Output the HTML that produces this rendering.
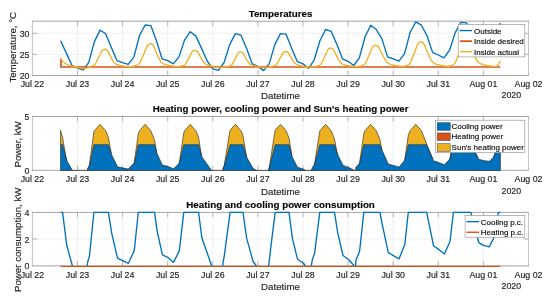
<!DOCTYPE html>
<html><head><meta charset="utf-8"><title>Simulation plots</title>
<style>html,body{margin:0;padding:0;background:#fff;overflow:hidden}body{width:550px;height:301px;position:relative}</style>
</head><body>
<svg width="550" height="301" viewBox="0 0 550 301" style="position:absolute;left:0;top:0;font-family:'Liberation Sans',sans-serif">
<style>text{stroke:#262626;stroke-width:0.18px;stroke-opacity:0.9}</style>
<rect width="550" height="301" fill="#fff"/>
<line x1="77.50" y1="21.20" x2="77.50" y2="75.50" stroke="#e6e6e6" stroke-width="0.6"/>
<line x1="122.60" y1="21.20" x2="122.60" y2="75.50" stroke="#e6e6e6" stroke-width="0.6"/>
<line x1="167.70" y1="21.20" x2="167.70" y2="75.50" stroke="#e6e6e6" stroke-width="0.6"/>
<line x1="212.80" y1="21.20" x2="212.80" y2="75.50" stroke="#e6e6e6" stroke-width="0.6"/>
<line x1="257.90" y1="21.20" x2="257.90" y2="75.50" stroke="#e6e6e6" stroke-width="0.6"/>
<line x1="303.00" y1="21.20" x2="303.00" y2="75.50" stroke="#e6e6e6" stroke-width="0.6"/>
<line x1="348.10" y1="21.20" x2="348.10" y2="75.50" stroke="#e6e6e6" stroke-width="0.6"/>
<line x1="393.20" y1="21.20" x2="393.20" y2="75.50" stroke="#e6e6e6" stroke-width="0.6"/>
<line x1="438.30" y1="21.20" x2="438.30" y2="75.50" stroke="#e6e6e6" stroke-width="0.6"/>
<line x1="483.40" y1="21.20" x2="483.40" y2="75.50" stroke="#e6e6e6" stroke-width="0.6"/>
<line x1="32.40" y1="54.40" x2="528.50" y2="54.40" stroke="#e6e6e6" stroke-width="0.6"/>
<line x1="32.40" y1="33.30" x2="528.50" y2="33.30" stroke="#e6e6e6" stroke-width="0.6"/>
<line x1="32.40" y1="21.20" x2="32.40" y2="75.50" stroke="#a9a9a9" stroke-width="0.7"/>
<line x1="528.50" y1="21.20" x2="528.50" y2="75.50" stroke="#a9a9a9" stroke-width="0.7"/>
<line x1="32.05" y1="21.20" x2="528.85" y2="21.20" stroke="#858585" stroke-width="0.75"/>
<line x1="32.05" y1="75.50" x2="528.85" y2="75.50" stroke="#858585" stroke-width="0.75"/>
<line x1="77.50" y1="75.50" x2="77.50" y2="70.70" stroke="#8c8c8c" stroke-width="0.6"/>
<line x1="77.50" y1="21.20" x2="77.50" y2="26.00" stroke="#8c8c8c" stroke-width="0.6"/>
<line x1="122.60" y1="75.50" x2="122.60" y2="70.70" stroke="#8c8c8c" stroke-width="0.6"/>
<line x1="122.60" y1="21.20" x2="122.60" y2="26.00" stroke="#8c8c8c" stroke-width="0.6"/>
<line x1="167.70" y1="75.50" x2="167.70" y2="70.70" stroke="#8c8c8c" stroke-width="0.6"/>
<line x1="167.70" y1="21.20" x2="167.70" y2="26.00" stroke="#8c8c8c" stroke-width="0.6"/>
<line x1="212.80" y1="75.50" x2="212.80" y2="70.70" stroke="#8c8c8c" stroke-width="0.6"/>
<line x1="212.80" y1="21.20" x2="212.80" y2="26.00" stroke="#8c8c8c" stroke-width="0.6"/>
<line x1="257.90" y1="75.50" x2="257.90" y2="70.70" stroke="#8c8c8c" stroke-width="0.6"/>
<line x1="257.90" y1="21.20" x2="257.90" y2="26.00" stroke="#8c8c8c" stroke-width="0.6"/>
<line x1="303.00" y1="75.50" x2="303.00" y2="70.70" stroke="#8c8c8c" stroke-width="0.6"/>
<line x1="303.00" y1="21.20" x2="303.00" y2="26.00" stroke="#8c8c8c" stroke-width="0.6"/>
<line x1="348.10" y1="75.50" x2="348.10" y2="70.70" stroke="#8c8c8c" stroke-width="0.6"/>
<line x1="348.10" y1="21.20" x2="348.10" y2="26.00" stroke="#8c8c8c" stroke-width="0.6"/>
<line x1="393.20" y1="75.50" x2="393.20" y2="70.70" stroke="#8c8c8c" stroke-width="0.6"/>
<line x1="393.20" y1="21.20" x2="393.20" y2="26.00" stroke="#8c8c8c" stroke-width="0.6"/>
<line x1="438.30" y1="75.50" x2="438.30" y2="70.70" stroke="#8c8c8c" stroke-width="0.6"/>
<line x1="438.30" y1="21.20" x2="438.30" y2="26.00" stroke="#8c8c8c" stroke-width="0.6"/>
<line x1="483.40" y1="75.50" x2="483.40" y2="70.70" stroke="#8c8c8c" stroke-width="0.6"/>
<line x1="483.40" y1="21.20" x2="483.40" y2="26.00" stroke="#8c8c8c" stroke-width="0.6"/>
<line x1="32.40" y1="54.40" x2="37.20" y2="54.40" stroke="#8c8c8c" stroke-width="0.6"/>
<line x1="528.50" y1="54.40" x2="523.70" y2="54.40" stroke="#8c8c8c" stroke-width="0.6"/>
<line x1="32.40" y1="33.30" x2="37.20" y2="33.30" stroke="#8c8c8c" stroke-width="0.6"/>
<line x1="528.50" y1="33.30" x2="523.70" y2="33.30" stroke="#8c8c8c" stroke-width="0.6"/>
<polyline fill="none" stroke="#0072BD" stroke-width="1.35" stroke-linejoin="round" points="60.59,40.70 66.22,52.90 71.86,65.30 77.50,68.00 83.14,70.10 88.78,62.40 94.41,41.60 100.05,30.10 105.69,33.70 111.33,47.40 116.96,60.60 122.60,62.60 128.24,64.40 133.88,57.10 139.51,35.50 145.15,25.00 150.79,25.60 156.43,40.80 162.06,58.80 167.70,60.70 173.34,63.90 178.97,56.90 184.61,39.90 190.25,31.70 195.89,36.10 201.53,48.40 207.16,61.00 212.80,68.80 218.44,70.40 224.08,62.50 229.71,44.60 235.35,33.60 240.99,35.20 246.62,48.40 252.26,63.90 257.90,66.40 263.54,70.60 269.18,63.90 274.81,44.60 280.45,33.60 286.09,34.20 291.73,48.40 297.36,61.70 303.00,63.90 308.64,68.30 314.27,59.80 319.91,40.80 325.55,29.50 331.19,31.40 336.82,44.20 342.46,58.80 348.10,61.30 353.74,65.50 359.38,57.90 365.01,37.00 370.65,25.30 376.29,29.50 381.93,38.90 387.56,56.90 393.20,58.80 398.84,61.10 404.47,53.80 410.11,32.50 415.75,21.90 421.39,25.20 427.02,35.70 432.66,52.60 438.30,55.00 443.94,57.90 449.57,50.20 455.21,32.60 460.85,22.30 466.49,22.80 472.12,33.00 477.76,50.00 483.40,52.00 489.04,54.00 494.68,45.00 500.31,22.80"/>
<polyline fill="none" stroke="#D95319" stroke-width="1.7" stroke-linejoin="miter" points="60.99,58.40 60.99,67.00 500.31,67.00"/>
<polyline fill="none" stroke="#EDB120" stroke-width="1.35" stroke-linejoin="round" points="60.59,58.40 61.09,59.16 61.59,59.85 62.09,60.48 62.59,61.06 63.09,61.58 63.59,62.05 64.09,62.48 64.59,62.88 65.09,63.24 65.59,63.56 66.09,63.86 66.59,64.13 67.09,64.37 67.59,64.60 68.09,64.80 68.59,64.99 69.09,65.16 69.59,65.32 70.09,65.46 70.59,65.60 71.09,65.72 71.59,65.84 72.09,65.96 72.59,66.07 73.09,66.18 73.59,66.29 74.09,66.41 74.59,66.53 75.09,66.65 75.59,66.79 76.09,66.93 76.59,67.08 77.09,67.23 77.59,67.39 78.09,67.56 78.59,67.73 79.09,67.90 79.59,68.06 80.09,68.22 80.59,68.36 81.09,68.48 81.59,68.58 82.09,68.66 82.59,68.71 83.09,68.73 83.59,68.72 84.09,68.69 84.59,68.62 85.09,68.54 85.59,68.43 86.09,68.29 86.59,68.13 87.09,67.94 87.59,67.75 88.09,67.54 88.59,67.33 89.09,67.13 89.59,66.93 90.09,66.74 90.59,66.55 91.09,66.37 91.59,66.17 92.09,65.97 92.59,65.75 93.09,65.52 93.59,65.27 94.09,64.99 94.59,64.68 95.09,64.24 95.59,63.49 96.09,62.53 96.59,61.47 97.09,60.42 97.59,59.47 98.09,58.52 98.59,57.54 99.09,56.55 99.59,55.56 100.09,54.55 100.59,53.43 101.09,52.33 101.59,51.38 102.09,50.70 102.59,50.16 103.09,49.76 103.59,49.51 104.09,49.32 104.59,49.21 105.09,49.22 105.59,49.35 106.09,49.55 106.59,49.82 107.09,50.32 107.59,50.96 108.09,51.70 108.59,52.64 109.09,53.69 109.59,54.73 110.09,55.69 110.59,56.67 111.09,57.64 111.59,58.58 112.09,59.46 112.59,60.25 113.09,61.03 113.59,61.78 114.09,62.46 114.59,63.02 115.09,63.42 115.59,63.75 116.09,64.04 116.59,64.29 117.09,64.51 117.59,64.71 118.09,64.88 118.59,65.04 119.09,65.18 119.59,65.31 120.09,65.43 120.59,65.54 121.09,65.65 121.59,65.74 122.09,65.83 122.59,65.91 123.09,65.98 123.59,66.05 124.09,66.11 124.59,66.17 125.09,66.22 125.59,66.27 126.09,66.32 126.59,66.37 127.09,66.41 127.59,66.45 128.09,66.49 128.59,66.53 129.09,66.56 129.59,66.60 130.09,66.63 130.59,66.67 131.09,66.59 131.59,66.51 132.09,66.42 132.59,66.33 133.09,66.23 133.59,66.13 134.09,66.02 134.59,65.90 135.09,65.76 135.59,65.61 136.09,65.44 136.59,65.24 137.09,65.02 137.59,64.77 138.09,64.49 138.59,64.18 139.09,63.83 139.59,63.27 140.09,62.40 140.59,61.32 141.09,60.13 141.59,58.92 142.09,57.80 142.59,56.73 143.09,55.63 143.59,54.52 144.09,53.40 144.59,52.27 145.09,51.14 145.59,49.91 146.09,48.62 146.59,47.41 147.09,46.39 147.59,45.65 148.09,45.03 148.59,44.54 149.09,44.22 149.59,43.98 150.09,43.80 150.59,43.70 151.09,43.75 151.59,43.92 152.09,44.18 152.59,44.54 153.09,45.17 153.59,45.96 154.09,46.87 154.59,48.03 155.09,49.33 155.59,50.65 156.09,51.86 156.59,53.08 157.09,54.31 157.59,55.51 158.09,56.65 158.59,57.69 159.09,58.66 159.59,59.63 160.09,60.55 160.59,61.35 161.09,62.00 161.59,62.46 162.09,62.86 162.59,63.22 163.09,63.53 163.59,63.80 164.09,64.05 164.59,64.27 165.09,64.46 165.59,64.64 166.09,64.80 166.59,64.96 167.09,65.10 167.59,65.23 168.09,65.36 168.59,65.47 169.09,65.57 169.59,65.67 170.09,65.75 170.59,65.83 171.09,65.91 171.59,65.98 172.09,66.05 172.59,66.11 173.09,66.17 173.59,66.22 174.09,66.28 174.59,66.33 175.09,66.38 175.59,66.43 176.09,66.47 176.59,66.52 177.09,66.56 177.59,66.60 178.09,66.64 178.59,66.57 179.09,66.49 179.59,66.41 180.09,66.33 180.59,66.24 181.09,66.14 181.59,66.02 182.09,65.89 182.59,65.73 183.09,65.55 183.59,65.35 184.09,65.11 184.59,64.84 185.09,64.50 185.59,63.86 186.09,63.00 186.59,62.02 187.09,61.03 187.59,60.13 188.09,59.24 188.59,58.34 189.09,57.41 189.59,56.49 190.09,55.55 190.59,54.52 191.09,53.48 191.59,52.55 192.09,51.87 192.59,51.34 193.09,50.94 193.59,50.69 194.09,50.50 194.59,50.37 195.09,50.36 195.59,50.46 196.09,50.63 196.59,50.87 197.09,51.29 197.59,51.87 198.09,52.53 198.59,53.38 199.09,54.35 199.59,55.33 200.09,56.24 200.59,57.15 201.09,58.06 201.59,58.95 202.09,59.78 202.59,60.54 203.09,61.27 203.59,61.98 204.09,62.63 204.59,63.18 205.09,63.59 205.59,63.90 206.09,64.18 206.59,64.43 207.09,64.65 207.59,64.85 208.09,65.03 208.59,65.19 209.09,65.35 209.59,65.50 210.09,65.64 210.59,65.78 211.09,65.92 211.59,66.06 212.09,66.20 212.59,66.33 213.09,66.47 213.59,66.60 214.09,66.73 214.59,66.85 215.09,66.98 215.59,67.09 216.09,67.20 216.59,67.29 217.09,67.38 217.59,67.44 218.09,67.50 218.59,67.54 219.09,67.57 219.59,67.58 220.09,67.57 220.59,67.56 221.09,67.53 221.59,67.50 222.09,67.46 222.59,67.41 223.09,67.36 223.59,67.32 224.09,67.25 224.59,67.15 225.09,67.05 225.59,66.93 226.09,66.81 226.59,66.70 227.09,66.58 227.59,66.46 228.09,66.35 228.59,66.22 229.09,66.07 229.59,65.90 230.09,65.71 230.59,65.49 231.09,65.24 231.59,64.95 232.09,64.49 232.59,63.69 233.09,62.70 233.59,61.67 234.09,60.72 234.59,59.80 235.09,58.85 235.59,57.89 236.09,56.92 236.59,55.90 237.09,54.80 237.59,53.82 238.09,53.12 238.59,52.60 239.09,52.23 239.59,52.01 240.09,51.85 240.59,51.80 241.09,51.89 241.59,52.06 242.09,52.31 242.59,52.77 243.09,53.37 243.59,54.10 244.09,55.03 244.59,56.02 245.09,56.95 245.59,57.86 246.09,58.78 246.59,59.67 247.09,60.50 247.59,61.25 248.09,61.98 248.59,62.68 249.09,63.29 249.59,63.76 250.09,64.09 250.59,64.38 251.09,64.63 251.59,64.85 252.09,65.05 252.59,65.22 253.09,65.37 253.59,65.52 254.09,65.66 254.59,65.80 255.09,65.93 255.59,66.06 256.09,66.18 256.59,66.30 257.09,66.43 257.59,66.55 258.09,66.67 258.59,66.79 259.09,66.91 259.59,67.03 260.09,67.14 260.59,67.25 261.09,67.35 261.59,67.44 262.09,67.52 262.59,67.59 263.09,67.64 263.59,67.67 264.09,67.70 264.59,67.70 265.09,67.69 265.59,67.67 266.09,67.64 266.59,67.60 267.09,67.55 267.59,67.47 268.09,67.37 268.59,67.27 269.09,67.15 269.59,67.02 270.09,66.90 270.59,66.77 271.09,66.65 271.59,66.53 272.09,66.41 272.59,66.28 273.09,66.14 273.59,65.98 274.09,65.81 274.59,65.62 275.09,65.40 275.59,65.15 276.09,64.87 276.59,64.39 277.09,63.64 277.59,62.72 278.09,61.75 278.59,60.84 279.09,59.98 279.59,59.09 280.09,58.20 280.59,57.29 281.09,56.38 281.59,55.38 282.09,54.36 282.59,53.47 283.09,52.84 283.59,52.34 284.09,51.97 284.59,51.76 285.09,51.59 285.59,51.50 286.09,51.54 286.59,51.66 287.09,51.85 287.59,52.14 288.09,52.62 288.59,53.20 289.09,53.91 289.59,54.78 290.09,55.72 290.59,56.60 291.09,57.46 291.59,58.32 292.09,59.17 292.59,59.98 293.09,60.73 293.59,61.41 294.09,62.10 294.59,62.74 295.09,63.29 295.59,63.72 296.09,64.03 296.59,64.31 297.09,64.55 297.59,64.76 298.09,64.95 298.59,65.12 299.09,65.27 299.59,65.42 300.09,65.55 300.59,65.68 301.09,65.81 301.59,65.93 302.09,66.05 302.59,66.16 303.09,66.27 303.59,66.38 304.09,66.48 304.59,66.58 305.09,66.67 305.59,66.76 306.09,66.84 306.59,66.92 307.09,66.99 307.59,67.04 308.09,67.09 308.59,67.13 309.09,67.16 309.59,67.18 310.09,67.19 310.59,67.20 311.09,67.20 311.59,67.19 312.09,67.17 312.59,67.16 313.09,67.07 313.59,66.96 314.09,66.84 314.59,66.72 315.09,66.60 315.59,66.47 316.09,66.35 316.59,66.22 317.09,66.07 317.59,65.92 318.09,65.74 318.59,65.54 319.09,65.31 319.59,65.06 320.09,64.77 320.59,64.45 321.09,63.93 321.59,63.09 322.09,62.04 322.59,60.91 323.09,59.82 323.59,58.82 324.09,57.80 324.59,56.76 325.09,55.71 325.59,54.65 326.09,53.56 326.59,52.36 327.09,51.21 327.59,50.25 328.09,49.58 328.59,49.02 329.09,48.63 329.59,48.39 330.09,48.20 330.59,48.10 331.09,48.14 331.59,48.28 332.09,48.50 332.59,48.80 333.09,49.33 333.59,49.99 334.09,50.75 334.59,51.72 335.09,52.80 335.59,53.88 336.09,54.87 336.59,55.88 337.09,56.88 337.59,57.86 338.09,58.78 338.59,59.61 339.09,60.42 339.59,61.21 340.09,61.94 340.59,62.57 341.09,63.05 341.59,63.41 342.09,63.72 342.59,64.00 343.09,64.25 343.59,64.46 344.09,64.65 344.59,64.82 345.09,64.98 345.59,65.12 346.09,65.25 346.59,65.37 347.09,65.49 347.59,65.59 348.09,65.69 348.59,65.78 349.09,65.86 349.59,65.93 350.09,66.00 350.59,66.06 351.09,66.12 351.59,66.18 352.09,66.23 352.59,66.28 353.09,66.33 353.59,66.37 354.09,66.42 354.59,66.46 355.09,66.50 355.59,66.53 356.09,66.57 356.59,66.61 357.09,66.64 357.59,66.59 358.09,66.50 358.59,66.41 359.09,66.31 359.59,66.21 360.09,66.11 360.59,65.99 361.09,65.85 361.59,65.70 362.09,65.52 362.59,65.32 363.09,65.09 363.59,64.83 364.09,64.54 364.59,64.21 365.09,63.77 365.59,62.99 366.09,61.95 366.59,60.76 367.09,59.54 367.59,58.40 368.09,57.31 368.59,56.21 369.09,55.08 369.59,53.94 370.09,52.80 370.59,51.61 371.09,50.32 371.59,49.06 372.09,47.97 372.59,47.18 373.09,46.55 373.59,46.06 374.09,45.75 374.59,45.51 375.09,45.35 375.59,45.30 376.09,45.38 376.59,45.54 377.09,45.76 377.59,46.06 378.09,46.57 378.59,47.21 379.09,47.92 379.59,48.81 380.09,49.85 380.59,50.95 381.09,52.03 381.59,53.03 382.09,54.05 382.59,55.07 383.09,56.08 383.59,57.04 384.09,57.94 384.59,58.76 385.09,59.58 385.59,60.38 386.09,61.12 386.59,61.78 387.09,62.31 387.59,62.71 388.09,63.05 388.59,63.36 389.09,63.63 389.59,63.87 390.09,64.09 390.59,64.29 391.09,64.47 391.59,64.63 392.09,64.78 392.59,64.92 393.09,65.05 393.59,65.17 394.09,65.28 394.59,65.39 395.09,65.49 395.59,65.58 396.09,65.67 396.59,65.74 397.09,65.82 397.59,65.88 398.09,65.95 398.59,66.01 399.09,66.07 399.59,66.12 400.09,66.17 400.59,66.22 401.09,66.27 401.59,66.31 402.09,66.36 402.59,66.40 403.09,66.38 403.59,66.27 404.09,66.16 404.59,66.05 405.09,65.92 405.59,65.79 406.09,65.63 406.59,65.45 407.09,65.24 407.59,65.01 408.09,64.75 408.59,64.45 409.09,64.12 409.59,63.74 410.09,63.23 410.59,62.34 411.09,61.18 411.59,59.86 412.09,58.51 412.59,57.24 413.09,56.04 413.59,54.82 414.09,53.58 414.59,52.32 415.09,51.06 415.59,49.79 416.09,48.39 416.59,46.96 417.09,45.64 417.59,44.60 418.09,43.84 418.59,43.19 419.09,42.72 419.59,42.43 420.09,42.19 420.59,42.03 421.09,42.01 421.59,42.12 422.09,42.33 422.59,42.60 423.09,43.01 423.59,43.65 424.09,44.43 424.59,45.30 425.09,46.40 425.59,47.65 426.09,48.95 426.59,50.17 427.09,51.34 427.59,52.54 428.09,53.73 428.59,54.88 429.09,55.98 429.59,56.99 430.09,57.94 430.59,58.89 431.09,59.80 431.59,60.63 432.09,61.33 432.59,61.87 433.09,62.29 433.59,62.66 434.09,63.00 434.59,63.30 435.09,63.57 435.59,63.81 436.09,64.02 436.59,64.22 437.09,64.40 437.59,64.56 438.09,64.72 438.59,64.87 439.09,65.00 439.59,65.13 440.09,65.25 440.59,65.36 441.09,65.46 441.59,65.55 442.09,65.64 442.59,65.72 443.09,65.80 443.59,65.87 444.09,65.94 444.59,66.00 445.09,66.06 445.59,66.12 446.09,66.17 446.59,66.23 447.09,66.28 447.59,66.32 448.09,66.33 448.59,66.22 449.09,66.10 449.59,65.98 450.09,65.85 450.59,65.71 451.09,65.54 451.59,65.35 452.09,65.14 452.59,64.89 453.09,64.62 453.59,64.31 454.09,63.96 454.59,63.57 455.09,63.01 455.59,62.06 456.09,60.86 456.59,59.50 457.09,58.11 457.59,56.81 458.09,55.59 458.59,54.33 459.09,53.06 459.59,51.77 460.09,50.47 460.59,49.17 461.09,47.75 461.59,46.27 462.09,44.91 462.59,43.81 463.09,43.00 463.59,42.32 464.09,41.81 464.59,41.49 465.09,41.23 465.59,41.05 466.09,41.00 466.59,41.09 467.09,41.29 467.59,41.55 468.09,41.91 468.59,42.52 469.09,43.29 469.59,44.14 470.09,45.21 470.59,46.45 471.09,47.78 471.59,49.07 472.09,50.28 472.59,51.50 473.09,52.72 473.59,53.93 474.09,55.08 474.59,56.16 475.09,57.15 475.59,58.13 476.09,59.08 476.59,59.98 477.09,60.77 477.59,61.41 478.09,61.88 478.59,62.29 479.09,62.66 479.59,62.99 480.09,63.28 480.59,63.54 481.09,63.78 481.59,63.99 482.09,64.18 482.59,64.36 483.09,64.53 483.59,64.69 484.09,64.83 484.59,64.97 485.09,65.10 485.59,65.22 486.09,65.33 486.59,65.43 487.09,65.52 487.59,65.61 488.09,65.69 488.59,65.77 489.09,65.84 489.59,65.91 490.09,65.98 490.59,66.04 491.09,66.10 491.59,66.15 492.09,66.21 492.59,66.26 493.09,66.31 493.59,66.35 494.09,66.40 494.59,66.45 495.09,66.49 495.59,66.46 496.09,66.33 496.59,66.09 497.09,65.74 497.59,65.29 498.09,64.73 498.59,64.06 499.09,63.28 499.59,62.40 500.09,61.41 500.31,60.92"/>
<text x="32.40" y="86.65" font-size="8.8" text-anchor="middle" fill="#262626">Jul 22</text>
<text x="77.50" y="86.65" font-size="8.8" text-anchor="middle" fill="#262626">Jul 23</text>
<text x="122.60" y="86.65" font-size="8.8" text-anchor="middle" fill="#262626">Jul 24</text>
<text x="167.70" y="86.65" font-size="8.8" text-anchor="middle" fill="#262626">Jul 25</text>
<text x="212.80" y="86.65" font-size="8.8" text-anchor="middle" fill="#262626">Jul 26</text>
<text x="257.90" y="86.65" font-size="8.8" text-anchor="middle" fill="#262626">Jul 27</text>
<text x="303.00" y="86.65" font-size="8.8" text-anchor="middle" fill="#262626">Jul 28</text>
<text x="348.10" y="86.65" font-size="8.8" text-anchor="middle" fill="#262626">Jul 29</text>
<text x="393.20" y="86.65" font-size="8.8" text-anchor="middle" fill="#262626">Jul 30</text>
<text x="438.30" y="86.65" font-size="8.8" text-anchor="middle" fill="#262626">Jul 31</text>
<text x="483.40" y="86.65" font-size="8.8" text-anchor="middle" fill="#262626">Aug 01</text>
<text x="528.50" y="86.65" font-size="8.8" text-anchor="middle" fill="#262626">Aug 02</text>
<text x="29.50" y="79.00" font-size="8.8" text-anchor="end" fill="#262626">20</text>
<text x="29.50" y="57.90" font-size="8.8" text-anchor="end" fill="#262626">25</text>
<text x="29.50" y="36.80" font-size="8.8" text-anchor="end" fill="#262626">30</text>
<text x="280.5" y="99.20" font-size="9.7" text-anchor="middle" fill="#262626">Datetime</text>
<text x="521.1" y="98.20" font-size="8.8" text-anchor="end" fill="#262626">2020</text>
<text x="280.6" y="17.30" font-size="9.75" font-weight="bold" text-anchor="middle" fill="#000">Temperatures</text>
<text transform="translate(16.40,47.30) rotate(-90)" font-size="9.7" text-anchor="middle" fill="#262626">Temperature, °C</text>
<line x1="77.50" y1="116.50" x2="77.50" y2="170.30" stroke="#e6e6e6" stroke-width="0.6"/>
<line x1="122.60" y1="116.50" x2="122.60" y2="170.30" stroke="#e6e6e6" stroke-width="0.6"/>
<line x1="167.70" y1="116.50" x2="167.70" y2="170.30" stroke="#e6e6e6" stroke-width="0.6"/>
<line x1="212.80" y1="116.50" x2="212.80" y2="170.30" stroke="#e6e6e6" stroke-width="0.6"/>
<line x1="257.90" y1="116.50" x2="257.90" y2="170.30" stroke="#e6e6e6" stroke-width="0.6"/>
<line x1="303.00" y1="116.50" x2="303.00" y2="170.30" stroke="#e6e6e6" stroke-width="0.6"/>
<line x1="348.10" y1="116.50" x2="348.10" y2="170.30" stroke="#e6e6e6" stroke-width="0.6"/>
<line x1="393.20" y1="116.50" x2="393.20" y2="170.30" stroke="#e6e6e6" stroke-width="0.6"/>
<line x1="438.30" y1="116.50" x2="438.30" y2="170.30" stroke="#e6e6e6" stroke-width="0.6"/>
<line x1="483.40" y1="116.50" x2="483.40" y2="170.30" stroke="#e6e6e6" stroke-width="0.6"/>
<line x1="32.40" y1="116.50" x2="32.40" y2="170.30" stroke="#a9a9a9" stroke-width="0.7"/>
<line x1="528.50" y1="116.50" x2="528.50" y2="170.30" stroke="#a9a9a9" stroke-width="0.7"/>
<line x1="32.05" y1="116.50" x2="528.85" y2="116.50" stroke="#858585" stroke-width="0.75"/>
<line x1="32.05" y1="170.30" x2="528.85" y2="170.30" stroke="#858585" stroke-width="0.75"/>
<line x1="77.50" y1="170.30" x2="77.50" y2="165.50" stroke="#8c8c8c" stroke-width="0.6"/>
<line x1="77.50" y1="116.50" x2="77.50" y2="121.30" stroke="#8c8c8c" stroke-width="0.6"/>
<line x1="122.60" y1="170.30" x2="122.60" y2="165.50" stroke="#8c8c8c" stroke-width="0.6"/>
<line x1="122.60" y1="116.50" x2="122.60" y2="121.30" stroke="#8c8c8c" stroke-width="0.6"/>
<line x1="167.70" y1="170.30" x2="167.70" y2="165.50" stroke="#8c8c8c" stroke-width="0.6"/>
<line x1="167.70" y1="116.50" x2="167.70" y2="121.30" stroke="#8c8c8c" stroke-width="0.6"/>
<line x1="212.80" y1="170.30" x2="212.80" y2="165.50" stroke="#8c8c8c" stroke-width="0.6"/>
<line x1="212.80" y1="116.50" x2="212.80" y2="121.30" stroke="#8c8c8c" stroke-width="0.6"/>
<line x1="257.90" y1="170.30" x2="257.90" y2="165.50" stroke="#8c8c8c" stroke-width="0.6"/>
<line x1="257.90" y1="116.50" x2="257.90" y2="121.30" stroke="#8c8c8c" stroke-width="0.6"/>
<line x1="303.00" y1="170.30" x2="303.00" y2="165.50" stroke="#8c8c8c" stroke-width="0.6"/>
<line x1="303.00" y1="116.50" x2="303.00" y2="121.30" stroke="#8c8c8c" stroke-width="0.6"/>
<line x1="348.10" y1="170.30" x2="348.10" y2="165.50" stroke="#8c8c8c" stroke-width="0.6"/>
<line x1="348.10" y1="116.50" x2="348.10" y2="121.30" stroke="#8c8c8c" stroke-width="0.6"/>
<line x1="393.20" y1="170.30" x2="393.20" y2="165.50" stroke="#8c8c8c" stroke-width="0.6"/>
<line x1="393.20" y1="116.50" x2="393.20" y2="121.30" stroke="#8c8c8c" stroke-width="0.6"/>
<line x1="438.30" y1="170.30" x2="438.30" y2="165.50" stroke="#8c8c8c" stroke-width="0.6"/>
<line x1="438.30" y1="116.50" x2="438.30" y2="121.30" stroke="#8c8c8c" stroke-width="0.6"/>
<line x1="483.40" y1="170.30" x2="483.40" y2="165.50" stroke="#8c8c8c" stroke-width="0.6"/>
<line x1="483.40" y1="116.50" x2="483.40" y2="121.30" stroke="#8c8c8c" stroke-width="0.6"/>
<polygon fill="#EDB120" points="60.59,130.64 60.60,130.65 62.00,135.85 62.60,137.35 63.60,143.68 65.20,152.61 66.22,158.46 66.70,160.36 71.86,169.49 72.40,170.45 77.50,170.45 83.14,170.45 87.20,170.45 87.70,168.53 88.78,166.79 89.50,163.85 93.90,131.92 94.41,130.66 100.05,124.35 105.69,130.66 108.40,137.39 111.33,153.51 111.80,154.93 116.96,165.59 117.50,166.70 122.60,167.85 128.24,169.12 128.40,169.15 133.88,163.38 134.30,161.90 138.30,133.66 139.51,130.66 145.15,124.35 150.79,130.66 154.50,139.87 156.43,151.11 157.30,154.02 162.06,164.38 162.40,165.12 167.70,166.27 173.34,168.65 173.50,168.72 178.97,163.51 179.30,162.39 183.80,132.67 184.61,130.66 190.25,124.35 195.89,130.66 198.60,137.39 201.53,155.74 201.80,156.76 207.16,164.17 211.70,170.45 212.80,170.45 218.44,170.45 222.70,170.45 223.10,168.53 224.08,166.16 224.20,165.58 229.71,132.06 230.10,130.22 235.35,124.35 240.99,130.66 243.00,135.65 246.62,156.91 246.70,157.19 252.26,166.83 253.10,168.29 256.40,170.45 257.90,170.45 263.54,170.45 268.60,170.45 269.18,168.11 271.90,150.42 274.81,132.14 275.20,130.22 280.45,124.35 286.09,130.66 289.00,137.88 291.73,154.72 292.40,157.19 297.36,166.91 297.50,167.18 303.00,168.94 303.20,169.01 305.50,170.45 308.64,170.45 311.30,170.45 312.30,167.47 314.27,164.76 314.60,163.49 319.80,130.93 319.91,130.66 325.55,124.35 331.19,130.66 334.50,138.88 336.82,151.74 337.70,154.45 342.46,164.29 343.00,165.41 348.10,167.16 348.60,167.33 353.74,170.09 354.40,170.45 355.50,170.45 355.90,167.66 359.38,163.63 359.60,162.83 363.80,133.66 365.01,130.66 370.65,124.35 376.29,130.66 379.90,139.62 381.93,149.68 382.40,150.85 387.56,162.36 388.30,164.01 393.20,165.40 398.84,166.99 399.00,167.04 404.47,160.56 404.80,159.36 408.30,135.15 410.11,130.66 415.75,124.35 421.39,130.66 426.70,143.84 427.02,145.39 432.66,158.64 433.60,160.84 438.30,162.35 438.70,162.47 443.94,164.55 444.40,164.73 449.57,159.14 450.00,157.62 453.40,135.15 455.21,130.66 460.85,124.35 466.49,130.66 470.90,141.61 472.12,146.89 477.76,157.29 478.80,159.21 483.30,160.50 483.40,160.52 489.04,161.25 489.20,161.27 493.60,157.19 494.68,154.30 498.30,135.65 500.31,130.66 500.40,130.55 500.40,144.65 500.31,144.65 498.30,144.65 494.68,154.31 493.60,157.19 489.20,161.27 489.04,161.25 483.40,160.52 483.30,160.50 478.80,159.21 477.76,157.29 472.12,146.90 470.90,144.65 466.49,144.65 460.85,144.65 455.21,144.65 453.40,144.65 450.00,158.68 449.57,159.14 444.40,164.73 443.94,164.55 438.70,162.47 438.30,162.35 433.60,160.84 432.66,158.64 427.02,145.40 426.70,144.65 421.39,144.65 415.75,144.65 410.11,144.65 408.30,144.65 404.80,160.17 404.47,160.56 399.00,167.04 398.84,166.99 393.20,165.40 388.30,164.01 387.56,162.36 382.40,150.85 381.93,149.68 379.90,144.65 376.29,144.65 370.65,144.65 365.01,144.65 363.80,144.65 359.60,163.39 359.38,163.64 355.90,167.66 355.50,170.45 354.40,170.45 353.74,170.09 348.60,167.33 348.10,167.16 343.00,165.41 342.46,164.29 337.70,154.45 336.82,151.76 334.50,144.65 331.19,144.65 325.55,144.65 319.91,144.65 319.80,144.65 314.60,164.30 314.27,164.76 312.30,167.47 311.30,170.45 308.64,170.45 305.50,170.45 303.20,169.01 303.00,168.94 297.50,167.18 297.36,166.91 292.40,157.19 291.73,154.72 289.00,144.65 286.09,144.65 280.45,144.65 275.20,144.65 274.81,146.13 271.90,157.19 269.18,168.12 268.60,170.45 263.54,170.45 257.90,170.45 256.40,170.45 253.10,168.29 252.26,166.83 246.70,157.19 246.62,156.92 243.00,144.65 240.99,144.65 235.35,144.65 230.10,144.65 229.71,146.05 224.20,165.89 224.08,166.17 223.10,168.53 222.70,170.45 218.44,170.45 212.80,170.45 211.70,170.45 207.16,164.17 201.80,156.76 201.53,155.74 198.60,144.65 195.89,144.65 190.25,144.65 184.61,144.65 183.80,144.65 179.30,163.20 178.97,163.51 173.50,168.72 173.34,168.65 167.70,166.27 162.40,165.12 162.06,164.38 157.30,154.02 156.43,151.11 154.50,144.65 150.79,144.65 145.15,144.65 139.51,144.65 138.30,144.65 134.30,162.96 133.88,163.40 128.40,169.15 128.24,169.12 122.60,167.85 117.50,166.70 116.96,165.59 111.80,154.93 111.33,153.51 108.40,144.65 105.69,144.65 100.05,144.65 94.41,144.65 93.90,144.65 89.50,165.65 88.78,166.80 87.70,168.53 87.20,170.45 83.14,170.45 77.50,170.45 72.40,170.45 71.86,169.49 66.70,160.36 66.22,158.52 65.20,154.61 63.60,148.48 62.60,144.65 62.00,144.65 60.60,144.65 60.59,144.65"/>
<polygon fill="#0072BD" points="60.59,144.65 60.60,144.65 62.00,144.65 62.60,144.65 63.60,148.48 65.20,154.61 66.22,158.52 66.70,160.36 71.86,169.49 72.40,170.45 77.50,170.45 83.14,170.45 87.20,170.45 87.70,168.53 88.78,166.80 89.50,165.65 93.90,144.65 94.41,144.65 100.05,144.65 105.69,144.65 108.40,144.65 111.33,153.51 111.80,154.93 116.96,165.59 117.50,166.70 122.60,167.85 128.24,169.12 128.40,169.15 133.88,163.40 134.30,162.96 138.30,144.65 139.51,144.65 145.15,144.65 150.79,144.65 154.50,144.65 156.43,151.11 157.30,154.02 162.06,164.38 162.40,165.12 167.70,166.27 173.34,168.65 173.50,168.72 178.97,163.51 179.30,163.20 183.80,144.65 184.61,144.65 190.25,144.65 195.89,144.65 198.60,144.65 201.53,155.74 201.80,156.76 207.16,164.17 211.70,170.45 212.80,170.45 218.44,170.45 222.70,170.45 223.10,168.53 224.08,166.17 224.20,165.89 229.71,146.05 230.10,144.65 235.35,144.65 240.99,144.65 243.00,144.65 246.62,156.92 246.70,157.19 252.26,166.83 253.10,168.29 256.40,170.45 257.90,170.45 263.54,170.45 268.60,170.45 269.18,168.12 271.90,157.19 274.81,146.13 275.20,144.65 280.45,144.65 286.09,144.65 289.00,144.65 291.73,154.72 292.40,157.19 297.36,166.91 297.50,167.18 303.00,168.94 303.20,169.01 305.50,170.45 308.64,170.45 311.30,170.45 312.30,167.47 314.27,164.76 314.60,164.30 319.80,144.65 319.91,144.65 325.55,144.65 331.19,144.65 334.50,144.65 336.82,151.76 337.70,154.45 342.46,164.29 343.00,165.41 348.10,167.16 348.60,167.33 353.74,170.09 354.40,170.45 355.50,170.45 355.90,167.66 359.38,163.64 359.60,163.39 363.80,144.65 365.01,144.65 370.65,144.65 376.29,144.65 379.90,144.65 381.93,149.68 382.40,150.85 387.56,162.36 388.30,164.01 393.20,165.40 398.84,166.99 399.00,167.04 404.47,160.56 404.80,160.17 408.30,144.65 410.11,144.65 415.75,144.65 421.39,144.65 426.70,144.65 427.02,145.40 432.66,158.64 433.60,160.84 438.30,162.35 438.70,162.47 443.94,164.55 444.40,164.73 449.57,159.14 450.00,158.68 453.40,144.65 455.21,144.65 460.85,144.65 466.49,144.65 470.90,144.65 472.12,146.90 477.76,157.29 478.80,159.21 483.30,160.50 483.40,160.52 489.04,161.25 489.20,161.27 493.60,157.19 494.68,154.31 498.30,144.65 500.31,144.65 500.40,144.65 500.40,170.45 60.59,170.45"/>
<polyline stroke="#1c1c1c" stroke-width="0.6" stroke-linejoin="round" stroke-linecap="round" fill="none" points="60.59,144.65 60.60,144.65 62.00,144.65 62.60,144.65 63.60,148.48 65.20,154.61 66.22,158.52 66.70,160.36 71.86,169.49 72.40,170.45"/>
<polyline stroke="#1c1c1c" stroke-width="0.6" stroke-linejoin="round" stroke-linecap="round" fill="none" points="87.20,170.45 87.70,168.53 88.78,166.80 89.50,165.65 93.90,144.65 94.41,144.65 100.05,144.65 105.69,144.65 108.40,144.65 111.33,153.51 111.80,154.93 116.96,165.59 117.50,166.70 122.60,167.85 128.24,169.12 128.40,169.15 133.88,163.40 134.30,162.96 138.30,144.65 139.51,144.65 145.15,144.65 150.79,144.65 154.50,144.65 156.43,151.11 157.30,154.02 162.06,164.38 162.40,165.12 167.70,166.27 173.34,168.65 173.50,168.72 178.97,163.51 179.30,163.20 183.80,144.65 184.61,144.65 190.25,144.65 195.89,144.65 198.60,144.65 201.53,155.74 201.80,156.76 207.16,164.17 211.70,170.45"/>
<polyline stroke="#1c1c1c" stroke-width="0.6" stroke-linejoin="round" stroke-linecap="round" fill="none" points="222.70,170.45 223.10,168.53 224.08,166.17 224.20,165.89 229.71,146.05 230.10,144.65 235.35,144.65 240.99,144.65 243.00,144.65 246.62,156.92 246.70,157.19 252.26,166.83 253.10,168.29 256.40,170.45"/>
<polyline stroke="#1c1c1c" stroke-width="0.6" stroke-linejoin="round" stroke-linecap="round" fill="none" points="268.60,170.45 269.18,168.12 271.90,157.19 274.81,146.13 275.20,144.65 280.45,144.65 286.09,144.65 289.00,144.65 291.73,154.72 292.40,157.19 297.36,166.91 297.50,167.18 303.00,168.94 303.20,169.01 305.50,170.45"/>
<polyline stroke="#1c1c1c" stroke-width="0.6" stroke-linejoin="round" stroke-linecap="round" fill="none" points="311.30,170.45 312.30,167.47 314.27,164.76 314.60,164.30 319.80,144.65 319.91,144.65 325.55,144.65 331.19,144.65 334.50,144.65 336.82,151.76 337.70,154.45 342.46,164.29 343.00,165.41 348.10,167.16 348.60,167.33 353.74,170.09 354.40,170.45"/>
<polyline stroke="#1c1c1c" stroke-width="0.6" stroke-linejoin="round" stroke-linecap="round" fill="none" points="355.50,170.45 355.90,167.66 359.38,163.64 359.60,163.39 363.80,144.65 365.01,144.65 370.65,144.65 376.29,144.65 379.90,144.65 381.93,149.68 382.40,150.85 387.56,162.36 388.30,164.01 393.20,165.40 398.84,166.99 399.00,167.04 404.47,160.56 404.80,160.17 408.30,144.65 410.11,144.65 415.75,144.65 421.39,144.65 426.70,144.65 427.02,145.40 432.66,158.64 433.60,160.84 438.30,162.35 438.70,162.47 443.94,164.55 444.40,164.73 449.57,159.14 450.00,158.68 453.40,144.65 455.21,144.65 460.85,144.65 466.49,144.65 470.90,144.65 472.12,146.90 477.76,157.29 478.80,159.21 483.30,160.50 483.40,160.52 489.04,161.25 489.20,161.27 493.60,157.19 494.68,154.31 498.30,144.65 500.31,144.65 500.40,144.65"/>
<polyline stroke="#1c1c1c" stroke-width="0.6" stroke-linejoin="round" stroke-linecap="round" fill="none" points="60.59,130.64 60.60,130.65 62.00,135.85 62.60,137.35 63.60,143.68 65.20,152.61 66.22,158.46 66.70,160.36"/>
<polyline stroke="#1c1c1c" stroke-width="0.6" stroke-linejoin="round" stroke-linecap="round" fill="none" points="87.70,168.53 88.78,166.79 89.50,163.85 93.90,131.92 94.41,130.66 100.05,124.35 105.69,130.66 108.40,137.39 111.33,153.51"/>
<polyline stroke="#1c1c1c" stroke-width="0.6" stroke-linejoin="round" stroke-linecap="round" fill="none" points="128.40,169.15 133.88,163.38 134.30,161.90 138.30,133.66 139.51,130.66 145.15,124.35 150.79,130.66 154.50,139.87 156.43,151.11"/>
<polyline stroke="#1c1c1c" stroke-width="0.6" stroke-linejoin="round" stroke-linecap="round" fill="none" points="178.97,163.51 179.30,162.39 183.80,132.67 184.61,130.66 190.25,124.35 195.89,130.66 198.60,137.39 201.53,155.74"/>
<polyline stroke="#1c1c1c" stroke-width="0.6" stroke-linejoin="round" stroke-linecap="round" fill="none" points="223.10,168.53 224.08,166.16 224.20,165.58 229.71,132.06 230.10,130.22 235.35,124.35 240.99,130.66 243.00,135.65 246.62,156.91 246.70,157.19"/>
<polyline stroke="#1c1c1c" stroke-width="0.6" stroke-linejoin="round" stroke-linecap="round" fill="none" points="268.60,170.45 269.18,168.11 271.90,150.42 274.81,132.14 275.20,130.22 280.45,124.35 286.09,130.66 289.00,137.88 291.73,154.72"/>
<polyline stroke="#1c1c1c" stroke-width="0.6" stroke-linejoin="round" stroke-linecap="round" fill="none" points="314.27,164.76 314.60,163.49 319.80,130.93 319.91,130.66 325.55,124.35 331.19,130.66 334.50,138.88 336.82,151.74 337.70,154.45"/>
<polyline stroke="#1c1c1c" stroke-width="0.6" stroke-linejoin="round" stroke-linecap="round" fill="none" points="355.90,167.66 359.38,163.63 359.60,162.83 363.80,133.66 365.01,130.66 370.65,124.35 376.29,130.66 379.90,139.62 381.93,149.68"/>
<polyline stroke="#1c1c1c" stroke-width="0.6" stroke-linejoin="round" stroke-linecap="round" fill="none" points="404.47,160.56 404.80,159.36 408.30,135.15 410.11,130.66 415.75,124.35 421.39,130.66 426.70,143.84 427.02,145.39 432.66,158.64"/>
<polyline stroke="#1c1c1c" stroke-width="0.6" stroke-linejoin="round" stroke-linecap="round" fill="none" points="449.57,159.14 450.00,157.62 453.40,135.15 455.21,130.66 460.85,124.35 466.49,130.66 470.90,141.61 472.12,146.89 477.76,157.29"/>
<polyline stroke="#1c1c1c" stroke-width="0.6" stroke-linejoin="round" stroke-linecap="round" fill="none" points="493.60,157.19 494.68,154.30 498.30,135.65 500.31,130.66 500.40,130.55"/>
<polyline stroke="#1c1c1c" stroke-width="0.6" stroke-linejoin="round" stroke-linecap="round" fill="none" points="60.59,130.64 60.59,170.45 500.40,170.45 500.40,130.55"/>
<text x="32.40" y="182.05" font-size="8.8" text-anchor="middle" fill="#262626">Jul 22</text>
<text x="77.50" y="182.05" font-size="8.8" text-anchor="middle" fill="#262626">Jul 23</text>
<text x="122.60" y="182.05" font-size="8.8" text-anchor="middle" fill="#262626">Jul 24</text>
<text x="167.70" y="182.05" font-size="8.8" text-anchor="middle" fill="#262626">Jul 25</text>
<text x="212.80" y="182.05" font-size="8.8" text-anchor="middle" fill="#262626">Jul 26</text>
<text x="257.90" y="182.05" font-size="8.8" text-anchor="middle" fill="#262626">Jul 27</text>
<text x="303.00" y="182.05" font-size="8.8" text-anchor="middle" fill="#262626">Jul 28</text>
<text x="348.10" y="182.05" font-size="8.8" text-anchor="middle" fill="#262626">Jul 29</text>
<text x="393.20" y="182.05" font-size="8.8" text-anchor="middle" fill="#262626">Jul 30</text>
<text x="438.30" y="182.05" font-size="8.8" text-anchor="middle" fill="#262626">Jul 31</text>
<text x="483.40" y="182.05" font-size="8.8" text-anchor="middle" fill="#262626">Aug 01</text>
<text x="528.50" y="182.05" font-size="8.8" text-anchor="middle" fill="#262626">Aug 02</text>
<text x="29.50" y="173.80" font-size="8.8" text-anchor="end" fill="#262626">0</text>
<text x="29.50" y="120.00" font-size="8.8" text-anchor="end" fill="#262626">5</text>
<text x="280.5" y="194.60" font-size="9.7" text-anchor="middle" fill="#262626">Datetime</text>
<text x="521.1" y="193.60" font-size="8.8" text-anchor="end" fill="#262626">2020</text>
<text x="280.6" y="112.40" font-size="9.75" font-weight="bold" text-anchor="middle" fill="#000">Heating power, cooling power and Sun's heating power</text>
<text transform="translate(20.50,144.40) rotate(-90)" font-size="9.7" text-anchor="middle" fill="#262626">Power, kW</text>
<line x1="77.50" y1="212.40" x2="77.50" y2="265.90" stroke="#e6e6e6" stroke-width="0.6"/>
<line x1="122.60" y1="212.40" x2="122.60" y2="265.90" stroke="#e6e6e6" stroke-width="0.6"/>
<line x1="167.70" y1="212.40" x2="167.70" y2="265.90" stroke="#e6e6e6" stroke-width="0.6"/>
<line x1="212.80" y1="212.40" x2="212.80" y2="265.90" stroke="#e6e6e6" stroke-width="0.6"/>
<line x1="257.90" y1="212.40" x2="257.90" y2="265.90" stroke="#e6e6e6" stroke-width="0.6"/>
<line x1="303.00" y1="212.40" x2="303.00" y2="265.90" stroke="#e6e6e6" stroke-width="0.6"/>
<line x1="348.10" y1="212.40" x2="348.10" y2="265.90" stroke="#e6e6e6" stroke-width="0.6"/>
<line x1="393.20" y1="212.40" x2="393.20" y2="265.90" stroke="#e6e6e6" stroke-width="0.6"/>
<line x1="438.30" y1="212.40" x2="438.30" y2="265.90" stroke="#e6e6e6" stroke-width="0.6"/>
<line x1="483.40" y1="212.40" x2="483.40" y2="265.90" stroke="#e6e6e6" stroke-width="0.6"/>
<line x1="32.40" y1="239.00" x2="528.50" y2="239.00" stroke="#e6e6e6" stroke-width="0.6"/>
<line x1="32.40" y1="212.40" x2="32.40" y2="265.90" stroke="#a9a9a9" stroke-width="0.7"/>
<line x1="528.50" y1="212.40" x2="528.50" y2="265.90" stroke="#a9a9a9" stroke-width="0.7"/>
<line x1="32.05" y1="212.40" x2="528.85" y2="212.40" stroke="#858585" stroke-width="0.75"/>
<line x1="32.05" y1="265.90" x2="528.85" y2="265.90" stroke="#858585" stroke-width="0.75"/>
<line x1="77.50" y1="265.90" x2="77.50" y2="261.10" stroke="#8c8c8c" stroke-width="0.6"/>
<line x1="77.50" y1="212.40" x2="77.50" y2="217.20" stroke="#8c8c8c" stroke-width="0.6"/>
<line x1="122.60" y1="265.90" x2="122.60" y2="261.10" stroke="#8c8c8c" stroke-width="0.6"/>
<line x1="122.60" y1="212.40" x2="122.60" y2="217.20" stroke="#8c8c8c" stroke-width="0.6"/>
<line x1="167.70" y1="265.90" x2="167.70" y2="261.10" stroke="#8c8c8c" stroke-width="0.6"/>
<line x1="167.70" y1="212.40" x2="167.70" y2="217.20" stroke="#8c8c8c" stroke-width="0.6"/>
<line x1="212.80" y1="265.90" x2="212.80" y2="261.10" stroke="#8c8c8c" stroke-width="0.6"/>
<line x1="212.80" y1="212.40" x2="212.80" y2="217.20" stroke="#8c8c8c" stroke-width="0.6"/>
<line x1="257.90" y1="265.90" x2="257.90" y2="261.10" stroke="#8c8c8c" stroke-width="0.6"/>
<line x1="257.90" y1="212.40" x2="257.90" y2="217.20" stroke="#8c8c8c" stroke-width="0.6"/>
<line x1="303.00" y1="265.90" x2="303.00" y2="261.10" stroke="#8c8c8c" stroke-width="0.6"/>
<line x1="303.00" y1="212.40" x2="303.00" y2="217.20" stroke="#8c8c8c" stroke-width="0.6"/>
<line x1="348.10" y1="265.90" x2="348.10" y2="261.10" stroke="#8c8c8c" stroke-width="0.6"/>
<line x1="348.10" y1="212.40" x2="348.10" y2="217.20" stroke="#8c8c8c" stroke-width="0.6"/>
<line x1="393.20" y1="265.90" x2="393.20" y2="261.10" stroke="#8c8c8c" stroke-width="0.6"/>
<line x1="393.20" y1="212.40" x2="393.20" y2="217.20" stroke="#8c8c8c" stroke-width="0.6"/>
<line x1="438.30" y1="265.90" x2="438.30" y2="261.10" stroke="#8c8c8c" stroke-width="0.6"/>
<line x1="438.30" y1="212.40" x2="438.30" y2="217.20" stroke="#8c8c8c" stroke-width="0.6"/>
<line x1="483.40" y1="265.90" x2="483.40" y2="261.10" stroke="#8c8c8c" stroke-width="0.6"/>
<line x1="483.40" y1="212.40" x2="483.40" y2="217.20" stroke="#8c8c8c" stroke-width="0.6"/>
<line x1="32.40" y1="239.00" x2="37.20" y2="239.00" stroke="#8c8c8c" stroke-width="0.6"/>
<line x1="528.50" y1="239.00" x2="523.70" y2="239.00" stroke="#8c8c8c" stroke-width="0.6"/>
<polyline fill="none" stroke="#0072BD" stroke-width="1.35" stroke-linejoin="round" points="60.60,212.30 62.60,212.30 66.70,245.00 72.40,266.00"/>
<polyline fill="none" stroke="#0072BD" stroke-width="1.35" stroke-linejoin="round" points="87.20,266.00 87.70,262.00 89.50,256.00 93.90,212.30 108.40,212.30 111.80,233.70 117.50,258.20 128.40,263.30 134.30,250.40 138.30,212.30 154.50,212.30 157.30,231.80 162.40,254.90 167.70,257.30 173.50,262.40 179.30,250.90 183.80,212.30 198.60,212.30 201.80,237.50 211.70,266.00"/>
<polyline fill="none" stroke="#0072BD" stroke-width="1.35" stroke-linejoin="round" points="222.70,266.00 223.10,262.00 224.20,256.50 230.10,212.30 243.00,212.30 246.70,238.40 253.10,261.50 256.40,266.00"/>
<polyline fill="none" stroke="#0072BD" stroke-width="1.35" stroke-linejoin="round" points="268.60,266.00 271.90,238.40 275.20,212.30 289.00,212.30 292.40,238.40 297.50,259.20 303.20,263.00 305.50,266.00"/>
<polyline fill="none" stroke="#0072BD" stroke-width="1.35" stroke-linejoin="round" points="311.30,266.00 312.30,259.80 314.60,253.20 319.80,212.30 334.50,212.30 337.70,232.70 343.00,255.50 348.60,259.50 354.40,266.00"/>
<polyline fill="none" stroke="#0072BD" stroke-width="1.35" stroke-linejoin="round" points="355.50,266.00 355.90,260.20 359.60,251.30 363.80,212.30 379.90,212.30 382.40,225.20 388.30,252.60 399.00,258.90 404.80,244.60 408.30,212.30 426.70,212.30 433.60,246.00 438.70,249.40 444.40,254.10 450.00,241.50 453.40,212.30 470.90,212.30 478.80,242.60 483.30,245.30 489.20,246.90 493.60,238.40 498.30,212.30 500.40,212.30"/>
<line x1="60.59" y1="266.35" x2="500.31" y2="266.35" stroke="#D95319" stroke-width="1.2"/>
<text x="32.40" y="277.65" font-size="8.8" text-anchor="middle" fill="#262626">Jul 22</text>
<text x="77.50" y="277.65" font-size="8.8" text-anchor="middle" fill="#262626">Jul 23</text>
<text x="122.60" y="277.65" font-size="8.8" text-anchor="middle" fill="#262626">Jul 24</text>
<text x="167.70" y="277.65" font-size="8.8" text-anchor="middle" fill="#262626">Jul 25</text>
<text x="212.80" y="277.65" font-size="8.8" text-anchor="middle" fill="#262626">Jul 26</text>
<text x="257.90" y="277.65" font-size="8.8" text-anchor="middle" fill="#262626">Jul 27</text>
<text x="303.00" y="277.65" font-size="8.8" text-anchor="middle" fill="#262626">Jul 28</text>
<text x="348.10" y="277.65" font-size="8.8" text-anchor="middle" fill="#262626">Jul 29</text>
<text x="393.20" y="277.65" font-size="8.8" text-anchor="middle" fill="#262626">Jul 30</text>
<text x="438.30" y="277.65" font-size="8.8" text-anchor="middle" fill="#262626">Jul 31</text>
<text x="483.40" y="277.65" font-size="8.8" text-anchor="middle" fill="#262626">Aug 01</text>
<text x="528.50" y="277.65" font-size="8.8" text-anchor="middle" fill="#262626">Aug 02</text>
<text x="29.50" y="269.40" font-size="8.8" text-anchor="end" fill="#262626">0</text>
<text x="29.50" y="242.50" font-size="8.8" text-anchor="end" fill="#262626">2</text>
<text x="29.50" y="215.60" font-size="8.8" text-anchor="end" fill="#262626">4</text>
<text x="280.5" y="290.20" font-size="9.7" text-anchor="middle" fill="#262626">Datetime</text>
<text x="521.1" y="289.20" font-size="8.8" text-anchor="end" fill="#262626">2020</text>
<text x="280.6" y="208.20" font-size="9.75" font-weight="bold" text-anchor="middle" fill="#000">Heating and cooling power consumption</text>
<text transform="translate(20.50,239.80) rotate(-90)" font-size="9.7" text-anchor="middle" fill="#262626">Power consumption, kW</text>
<rect x="458.20" y="24.60" width="66.60" height="32.30" fill="#fff" stroke="#929292" stroke-width="0.65"/>
<line x1="459.80" y1="30.55" x2="472.10" y2="30.55" stroke="#0072BD" stroke-width="1.40"/>
<text x="474.00" y="33.65" font-size="8.0" fill="#000">Outside</text>
<line x1="459.80" y1="41.15" x2="472.10" y2="41.15" stroke="#D95319" stroke-width="1.70"/>
<text x="474.00" y="44.25" font-size="8.0" fill="#000">Inside desired</text>
<line x1="459.80" y1="51.65" x2="472.10" y2="51.65" stroke="#EDB120" stroke-width="1.40"/>
<text x="474.00" y="54.75" font-size="8.0" fill="#000">Inside actual</text>
<rect x="435.40" y="120.20" width="89.40" height="32.30" fill="#fff" stroke="#929292" stroke-width="0.65"/>
<rect x="437.20" y="122.75" width="13.00" height="7.50" fill="#0072BD" stroke="#333" stroke-width="0.5"/>
<text x="451.60" y="129.25" font-size="8.0" fill="#000">Cooling power</text>
<rect x="437.20" y="132.95" width="13.00" height="7.50" fill="#D95319" stroke="#333" stroke-width="0.5"/>
<text x="451.60" y="139.45" font-size="8.0" fill="#000">Heating power</text>
<rect x="437.20" y="143.75" width="13.00" height="7.50" fill="#EDB120" stroke="#333" stroke-width="0.5"/>
<text x="451.60" y="150.25" font-size="8.0" fill="#000">Sun's heating power</text>
<rect x="465.10" y="215.50" width="59.70" height="21.70" fill="#fff" stroke="#929292" stroke-width="0.65"/>
<line x1="466.40" y1="221.65" x2="479.10" y2="221.65" stroke="#0072BD" stroke-width="1.40"/>
<text x="480.80" y="224.75" font-size="8.0" fill="#000">Cooling p.c.</text>
<line x1="466.40" y1="232.25" x2="479.10" y2="232.25" stroke="#D95319" stroke-width="1.40"/>
<text x="480.80" y="235.35" font-size="8.0" fill="#000">Heating p.c.</text>
</svg>
</body></html>
